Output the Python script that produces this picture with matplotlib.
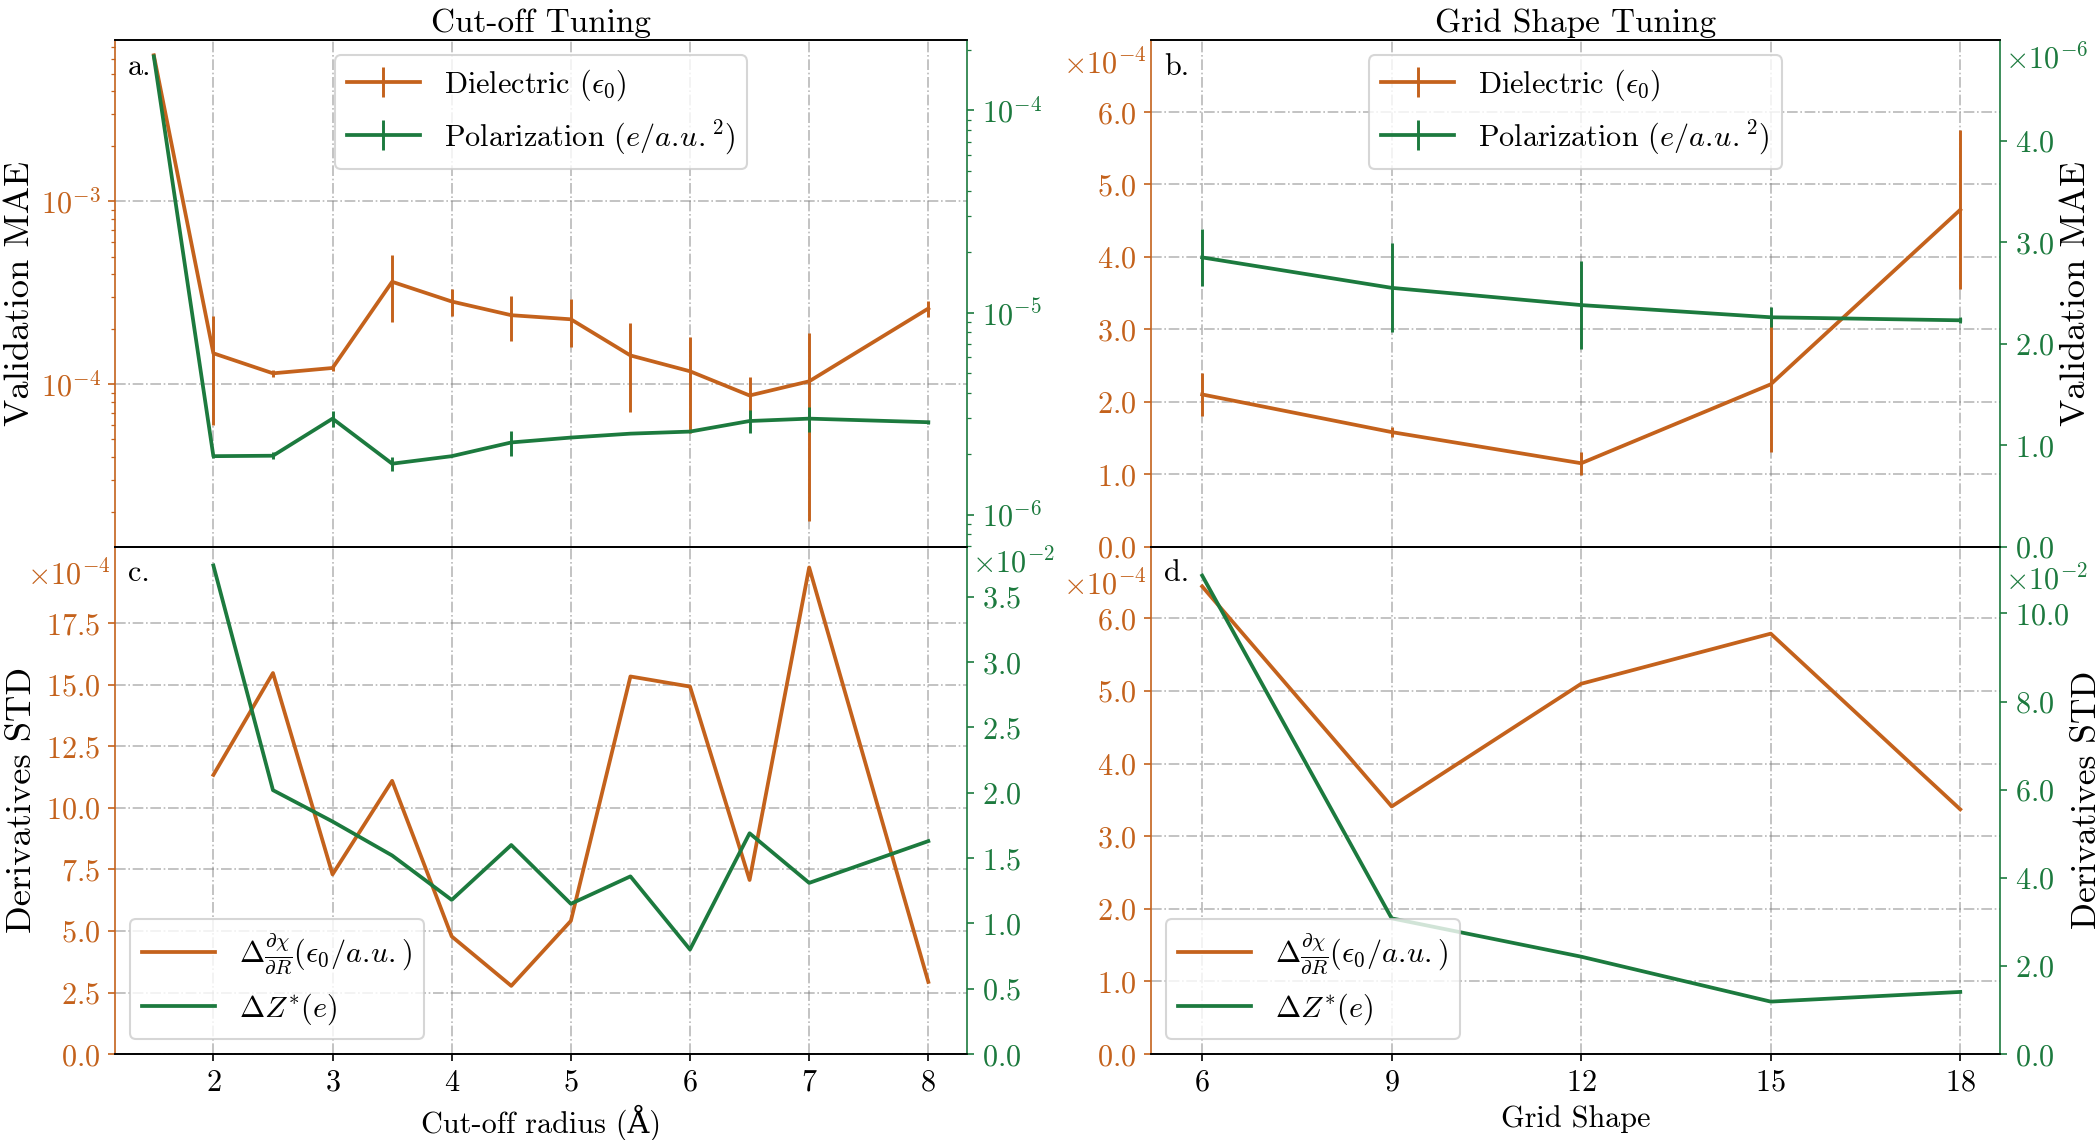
import numpy as np
import matplotlib
matplotlib.use("Agg")
import matplotlib.pyplot as plt
import matplotlib.ticker as mticker

plt.rcParams.update({
    "font.family": "serif",
    "font.serif": ["cmr10"],
    "mathtext.fontset": "cm",
    "axes.formatter.use_mathtext": True,
    "axes.unicode_minus": False,
    "font.size": 14,
})

ORANGE = "#c4621c"
GREEN = "#1c7a3e"

# ── data: cut-off tuning ────────────────────────────────────────────────────
cut_x = [1.5, 2, 2.5, 3, 3.5, 4, 4.5, 5, 5.5, 6, 6.5, 7, 8]
cut_diel = [6.3e-3, 1.48e-4, 1.15e-4, 1.23e-4, 3.64e-4, 2.84e-4, 2.39e-4,
            2.27e-4, 1.44e-4, 1.18e-4, 8.7e-5, 1.04e-4, 2.6e-4]
cut_diel_err = [0.0, 0.88e-4, 0.05e-4, 0.05e-4, 1.45e-4, 0.47e-4, 0.67e-4,
                0.66e-4, 0.73e-4, 0.64e-4, 0.23e-4, 0.86e-4, 0.27e-4]
cut_pol = [1.85e-4, 1.95e-6, 1.96e-6, 2.99e-6, 1.79e-6, 1.95e-6, 2.28e-6,
           2.41e-6, 2.52e-6, 2.58e-6, 2.91e-6, 2.99e-6, 2.87e-6]
cut_pol_err = [0.0, 0.05e-6, 0.08e-6, 0.27e-6, 0.15e-6, 0.0, 0.32e-6,
               0.0, 0.0, 0.0, 0.38e-6, 0.42e-6, 0.05e-6]

cut_x_std = [2, 2.5, 3, 3.5, 4, 4.5, 5, 5.5, 6, 6.5, 7, 8]
cut_dchi = [11.34e-4, 15.48e-4, 7.30e-4, 11.10e-4, 4.78e-4, 2.77e-4, 5.41e-4,
            15.34e-4, 14.93e-4, 7.07e-4, 19.77e-4, 2.93e-4]
cut_dz = [3.74e-2, 2.02e-2, 1.78e-2, 1.52e-2, 1.18e-2, 1.60e-2, 1.15e-2,
          1.36e-2, 0.80e-2, 1.69e-2, 1.31e-2, 1.63e-2]

# ── data: grid shape tuning ─────────────────────────────────────────────────
grid_x = [6, 9, 12, 15, 18]
grid_diel = [2.10e-4, 1.58e-4, 1.15e-4, 2.24e-4, 4.65e-4]
grid_diel_err = [0.30e-4, 0.07e-4, 0.16e-4, 0.94e-4, 1.10e-4]
grid_pol = [2.85e-6, 2.55e-6, 2.38e-6, 2.26e-6, 2.23e-6]
grid_pol_err = [0.28e-6, 0.44e-6, 0.43e-6, 0.10e-6, 0.03e-6]
grid_dchi = [6.44e-4, 3.41e-4, 5.10e-4, 5.79e-4, 3.37e-4]
grid_dz = [10.86e-2, 3.08e-2, 2.21e-2, 1.19e-2, 1.41e-2]

LBL_DIEL = r"Dielectric ($\epsilon_0$)"
LBL_POL = r"Polarization ($e/a.\!u.^2$)"
LBL_DCHI = r"$\Delta\frac{\partial\chi}{\partial R}(\epsilon_0/a.\!u.)$"
LBL_DZ = r"$\Delta Z^{*}(e)$"


class FixedSci(mticker.ScalarFormatter):
    """Scalar formatter with a fixed power of ten and one decimal."""

    def __init__(self, order):
        super().__init__(useMathText=True)
        self.fixed_order = order

    def _set_order_of_magnitude(self):
        self.orderOfMagnitude = self.fixed_order

    def _set_format(self):
        self.format = r"$\mathdefault{%1.1f}$"


def style_pair(ax, ax2):
    ax.spines["left"].set_color(ORANGE)
    ax.spines["right"].set_visible(False)
    ax2.spines["left"].set_visible(False)
    ax2.spines["right"].set_color(GREEN)
    ax.tick_params(axis="y", which="both", colors=ORANGE, labelsize=14.5)
    ax2.tick_params(axis="y", which="both", colors=GREEN, labelsize=14.5)
    ax.tick_params(axis="x", labelsize=14.5)
    ax.grid(True, linestyle="-.", color="gray", alpha=0.55, linewidth=0.8)
    ax.set_axisbelow(True)


def sci_axis(ax, order, ticks, side, ytop=0.99):
    ax.yaxis.set_major_locator(mticker.FixedLocator(ticks))
    ax.yaxis.set_major_formatter(FixedSci(order))
    ax.yaxis.get_offset_text().set_visible(False)
    if side == "left":
        ax.text(-0.006, ytop, r"$\times10^{%d}$" % order, transform=ax.transAxes,
                ha="right", va="top", color=ORANGE, fontsize=14.5)
    else:
        ax.text(1.006, ytop, r"$\times10^{%d}$" % order, transform=ax.transAxes,
                ha="left", va="top", color=GREEN, fontsize=14.5)


fig = plt.figure(figsize=(14, 7.6), dpi=150)
L0, LW = 0.0548, 0.4057
R0, RW = 0.5481, 0.4043
Y0, YM, YT = 0.0754, 0.5206, 0.9646

ax_a = fig.add_axes([L0, YM, LW, YT - YM])
ax_c = fig.add_axes([L0, Y0, LW, YM - Y0], sharex=ax_a)
ax_b = fig.add_axes([R0, YM, RW, YT - YM])
ax_d = fig.add_axes([R0, Y0, RW, YM - Y0], sharex=ax_b)

LW_LINE = 1.8
LW_ERR = 1.4

# ── a. cut-off validation MAE (log) ─────────────────────────────────────────
ax_a2 = ax_a.twinx()
ax_a.errorbar(cut_x, cut_diel, yerr=cut_diel_err, color=ORANGE, lw=LW_LINE,
              elinewidth=LW_ERR, label=LBL_DIEL)
ax_a2.errorbar(cut_x, cut_pol, yerr=cut_pol_err, color=GREEN, lw=LW_LINE,
               elinewidth=LW_ERR, label=LBL_POL)
ax_a.set_yscale("log")
ax_a2.set_yscale("log")
ax_a.set_ylim(1.30e-5, 7.6e-3)
ax_a2.set_ylim(6.97e-7, 2.22e-4)
ax_a.set_xlim(1.175, 8.325)
style_pair(ax_a, ax_a2)
ax_a.tick_params(labelbottom=False)
ax_a.set_ylabel("Validation MAE", fontsize=17.5, labelpad=2)
ax_a.set_title("Cut-off Tuning", fontsize=16, pad=4)
ax_a.text(0.015, 0.975, "a.", transform=ax_a.transAxes, ha="left", va="top", fontsize=14.5)
h1, l1 = ax_a.get_legend_handles_labels()
h2, l2 = ax_a2.get_legend_handles_labels()
ax_a2.legend(h1 + h2, l1 + l2, loc="upper center", fontsize=14.5, handlelength=2.4)

# ── b. grid shape validation MAE ────────────────────────────────────────────
ax_b2 = ax_b.twinx()
ax_b.errorbar(grid_x, grid_diel, yerr=grid_diel_err, color=ORANGE, lw=LW_LINE,
              elinewidth=LW_ERR, label=LBL_DIEL)
ax_b2.errorbar(grid_x, grid_pol, yerr=grid_pol_err, color=GREEN, lw=LW_LINE,
               elinewidth=LW_ERR, label=LBL_POL)
ax_b.set_ylim(0, 6.99e-4)
ax_b2.set_ylim(0, 4.99e-6)
ax_b.set_xlim(5.19, 18.63)
ax_b.set_xticks(grid_x)
style_pair(ax_b, ax_b2)
sci_axis(ax_b, -4, np.arange(0, 7) * 1e-4, "left", 0.985)
sci_axis(ax_b2, -6, np.arange(0, 5) * 1e-6, "right", 0.995)
ax_b.tick_params(labelbottom=False)
ax_b2.set_ylabel("Validation MAE", fontsize=17.5, labelpad=3)
ax_b.set_title("Grid Shape Tuning", fontsize=16, pad=4)
ax_b.text(0.015, 0.975, "b.", transform=ax_b.transAxes, ha="left", va="top", fontsize=14.5)
h1, l1 = ax_b.get_legend_handles_labels()
h2, l2 = ax_b2.get_legend_handles_labels()
ax_b2.legend(h1 + h2, l1 + l2, loc="upper center", fontsize=14.5, handlelength=2.4)

# ── c. cut-off derivatives STD ──────────────────────────────────────────────
ax_c2 = ax_c.twinx()
ax_c.plot(cut_x_std, cut_dchi, color=ORANGE, lw=LW_LINE, label=LBL_DCHI)
ax_c2.plot(cut_x_std, cut_dz, color=GREEN, lw=LW_LINE, label=LBL_DZ)
ax_c.set_ylim(0, 2.062e-3)
ax_c2.set_ylim(0, 3.885e-2)
style_pair(ax_c, ax_c2)
sci_axis(ax_c, -4, np.arange(0, 18, 2.5) * 1e-4, "left", 0.975)
sci_axis(ax_c2, -2, np.arange(0, 3.6, 0.5) * 1e-2, "right", 0.998)
ax_c.set_xticks([2, 3, 4, 5, 6, 7, 8])
ax_c.set_ylabel("Derivatives STD", fontsize=17.5, labelpad=4)
ax_c.set_xlabel("Cut-off radius (Å)", fontsize=14.5, family=["cmr10", "DejaVu Serif"])
ax_c.text(0.015, 0.975, "c.", transform=ax_c.transAxes, ha="left", va="top", fontsize=14.5)
h1, l1 = ax_c.get_legend_handles_labels()
h2, l2 = ax_c2.get_legend_handles_labels()
ax_c2.legend(h1 + h2, l1 + l2, loc="lower left", fontsize=14.5, handlelength=2.4)

# ── d. grid shape derivatives STD ───────────────────────────────────────────
ax_d2 = ax_d.twinx()
ax_d.plot(grid_x, grid_dchi, color=ORANGE, lw=LW_LINE, label=LBL_DCHI)
ax_d2.plot(grid_x, grid_dz, color=GREEN, lw=LW_LINE, label=LBL_DZ)
ax_d.set_ylim(0, 6.99e-4)
ax_d2.set_ylim(0, 11.52e-2)
style_pair(ax_d, ax_d2)
sci_axis(ax_d, -4, np.arange(0, 7) * 1e-4, "left", 0.955)
sci_axis(ax_d2, -2, np.arange(0, 11, 2) * 1e-2, "right", 0.965)
ax_d2.set_ylabel("Derivatives STD", fontsize=17, labelpad=1)
ax_d.set_xlabel("Grid Shape", fontsize=14.5)
ax_d.text(0.015, 0.975, "d.", transform=ax_d.transAxes, ha="left", va="top", fontsize=14.5)
h1, l1 = ax_d.get_legend_handles_labels()
h2, l2 = ax_d2.get_legend_handles_labels()
ax_d2.legend(h1 + h2, l1 + l2, loc="lower left", fontsize=14.5, handlelength=2.4)

fig.savefig("out.png", dpi=150)
plt.close(fig)
